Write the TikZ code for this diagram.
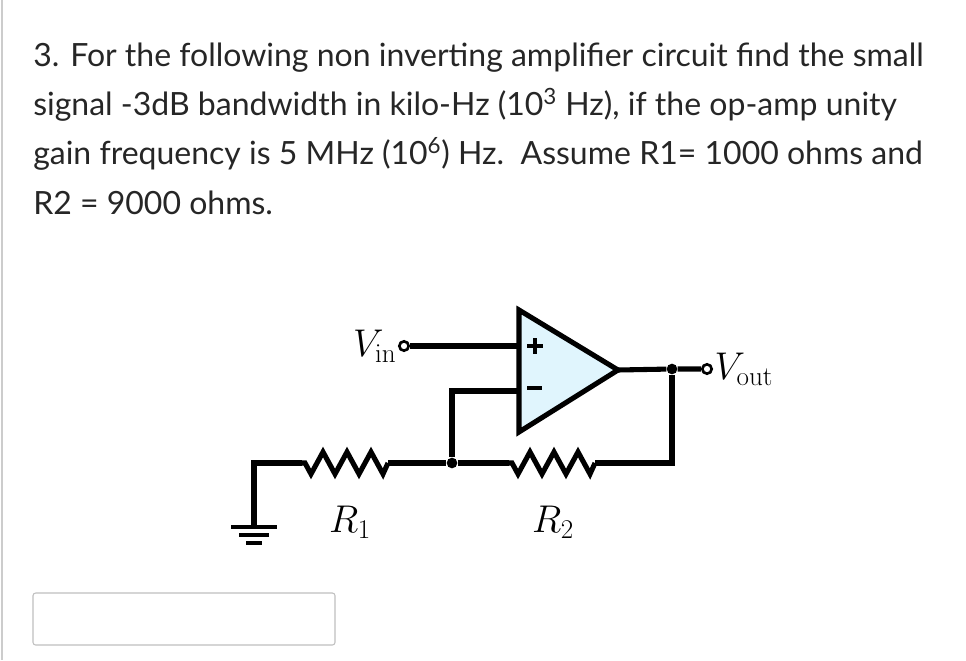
\RequirePackage{fix-cm}
\documentclass[tikz,border=0pt]{standalone}
\usepackage[no-math]{fontspec}
\setmainfont{Lato}
\usetikzlibrary{positioning}
\tikzset{
  wire/.style = {line width=3.8pt, line join=miter},
  term/.style = {circle, draw, line width=2pt, fill=white, inner sep=0pt, minimum size=7pt},
  dot/.style = {circle, fill, inner sep=0pt, minimum size=8pt},
  lbl/.style = {font=\fontsize{29}{30}\selectfont},
  res/.pic = {\draw[wire] (0,0) -- (3,0) -- (9,11) -- (21,-11) -- (33,11) -- (45,-11) -- (57,11) -- (69,-11) -- (81,11) -- (86,0);}
}
\begin{document}
\begin{tikzpicture}[x=0.75pt, y=-0.75pt]
  \useasboundingbox (0,0) rectangle (966,660);
  \draw[gray!40, line width=1pt] (2,0) -- (2,660);

  % question text
  \node[anchor=north west, inner sep=0pt, align=left,
        font=\fontsize{24}{36.8}\selectfont, text=black!85] (q) at (33,43)
    {3. For the following non inverting amplifier circuit find the small\\
     signal -3dB bandwidth in kilo-Hz (10\textsuperscript{3} Hz), if the op-amp unity\\
     gain frequency is 5 MHz (10\textsuperscript{6}) Hz.\ \ Assume R1= 1000 ohms and\\
     R2 = 9000 ohms.};

  % op-amp
  \filldraw[wire, fill=cyan!12, draw=black] (519,310) -- (618,370) -- (519,432) -- cycle;
  \coordinate (plus) at (519,346);
  \coordinate (minus) at (519,391);
  \coordinate (out) at (618,370);
  \draw[line width=2.6pt] (527,346) -- (543,346) (535,338) -- (535,354);
  \draw[line width=2.6pt] (527,388) -- (542,388);

  % terminals and nodes
  \node[term] (vin) at (404,346) {};
  \node[term] (vout) at (707,369) {};
  \node[dot] (no) at (672,369) {};
  \node[dot] (nj) at (452,463) {};
  \coordinate (gnd) at (254,527);
  \coordinate (r1a) at (302,463);
  \coordinate (r2a) at (509,463);

  \node[lbl, anchor=east, inner sep=1pt] at (vin.west) {$V_{\mathrm{in}}$};
  \node[lbl, anchor=west, inner sep=1pt] at (vout.east) {$V_{\mathrm{out}}$};

  % wires
  \draw[wire] (vin) -- (plus);
  \draw[wire] (out) -- (no) -- (vout);
  \draw[wire] (minus) -| (nj);
  \draw[wire] (gnd) |- (r1a);
  \pic at (r1a) {res};
  \draw[wire] (388,463) -- (nj) -- (r2a);
  \pic at (r2a) {res};
  \draw[wire] (595,463) -| (no);

  % ground
  \draw[line width=3.6pt] (231,527) -- (277,527);
  \draw[line width=3.6pt] (239,535) -- (269,535);
  \draw[line width=3.6pt] (246,543) -- (262,543);

  \node[lbl] at (350,522) {$R_1$};
  \node[lbl] at (553,522) {$R_2$};

  % answer box
  \draw[gray!50, line width=0.8pt, rounded corners=2pt] (33,593) rectangle (335,645);
\end{tikzpicture}
\end{document}
